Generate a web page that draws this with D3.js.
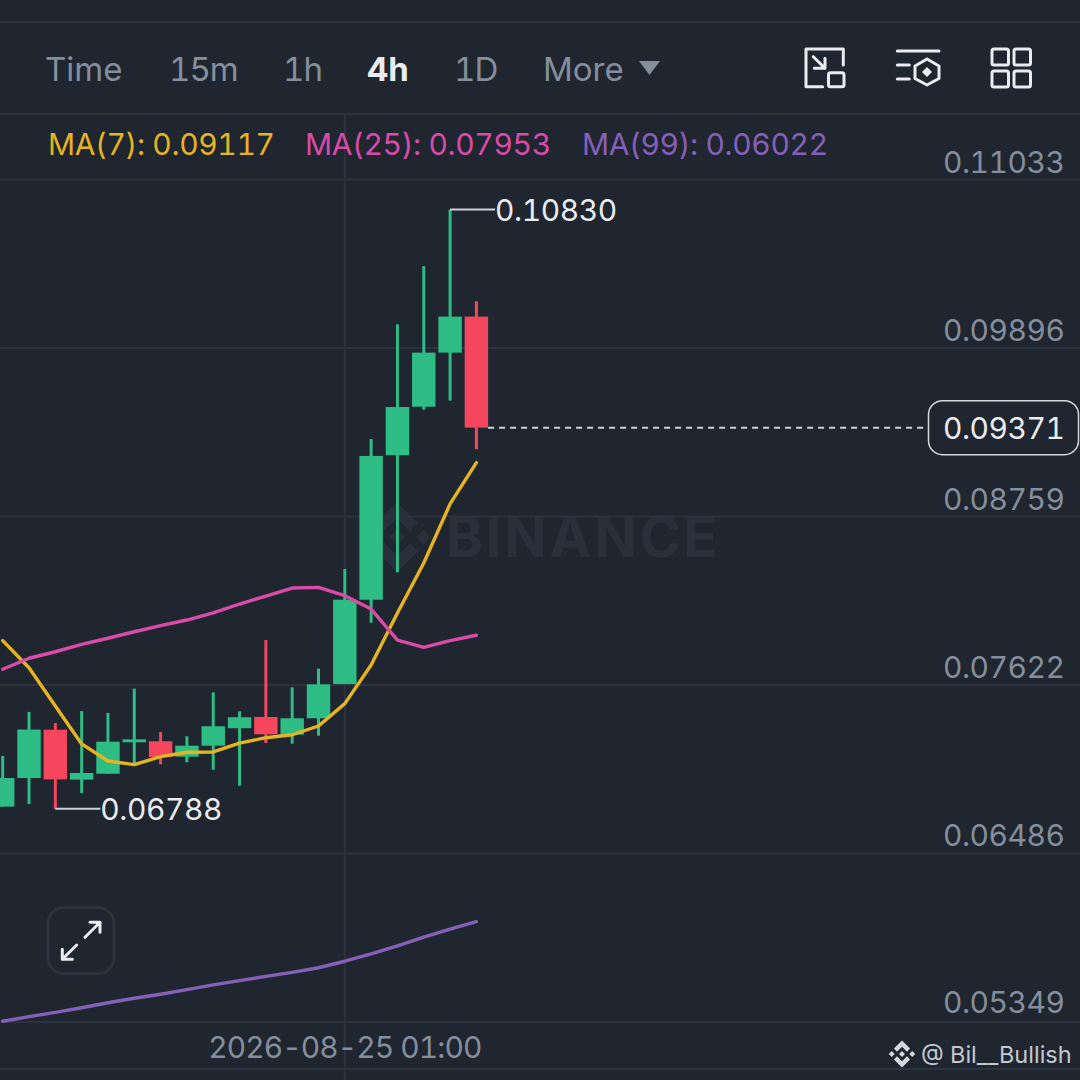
<!DOCTYPE html>
<html>
<head>
<meta charset="utf-8">
<script src="https://cdnjs.cloudflare.com/ajax/libs/d3/7.8.5/d3.min.js"></script>
<style>
  html, body { margin: 0; padding: 0; background: #1f2630; }
  svg { display: block; }
  text { font-family: Inter, "Noto Sans", sans-serif; font-variant-numeric: tabular-nums; font-feature-settings: "tnum" 1; }
</style>
</head>
<body>
<div id="chart"></div>
<script>
// values
const opens  = [0.06802, 0.06995, 0.07321, 0.06984, 0.07024, 0.07236, 0.07243, 0.07139, 0.07213, 0.07331, 0.07407, 0.07287, 0.07398, 0.07629, 0.08198, 0.09173, 0.09500, 0.09865, 0.10108];
const highs  = [0.07144, 0.07441, 0.07366, 0.07447, 0.07434, 0.07598, 0.07306, 0.07277, 0.07573, 0.07445, 0.07926, 0.07607, 0.07733, 0.08405, 0.09282, 0.10056, 0.10448, 0.10830, 0.10212];
const lows   = [0.06802, 0.06820, 0.06788, 0.06894, 0.07024, 0.07090, 0.07088, 0.07101, 0.07051, 0.06943, 0.07231, 0.07227, 0.07281, 0.07629, 0.08043, 0.08383, 0.09480, 0.09541, 0.09213];
const closes = [0.06995, 0.07322, 0.06986, 0.07029, 0.07240, 0.07256, 0.07137, 0.07213, 0.07344, 0.07405, 0.07290, 0.07398, 0.07627, 0.08198, 0.09168, 0.09498, 0.09865, 0.10108, 0.09359];

const ma7  = [0.07922, 0.07739, 0.07481, 0.07225, 0.07110, 0.07085, 0.07139, 0.07169, 0.07171, 0.07231, 0.07267, 0.07287, 0.07346, 0.07497, 0.07758, 0.08109, 0.08446, 0.08844, 0.09123];
const ma25 = [0.07729, 0.07803, 0.07847, 0.07897, 0.07938, 0.07982, 0.08023, 0.08061, 0.08109, 0.08169, 0.08223, 0.08277, 0.08281, 0.08225, 0.08135, 0.07926, 0.07877, 0.07922, 0.07958];
const ma99 = [0.05354, 0.05385, 0.05414, 0.05445, 0.05479, 0.05509, 0.05536, 0.05567, 0.05599, 0.05628, 0.05657, 0.05684, 0.05715, 0.05759, 0.05808, 0.05862, 0.05922, 0.05976, 0.06026];

const priceTicks = [0.11033, 0.09896, 0.08759, 0.07622, 0.06486, 0.05349];
const timeTicks = [13];
const timeTickLabels = ["2026-08-25 01:00"];
const lastPriceLabel = "0.09371";

const intervals = ["Time", "15m", "1h", "4h", "1D", "More"];
const intervalX = [45, 169, 283, 367, 454, 543];
const maLabels = ["MA(7): 0.09117", "MA(25): 0.07953", "MA(99): 0.06022"];
const maLabelX = [48, 305, 582];

const bg = "#1f2630", gridColor = "#2d333e", gray = "#848e9c", white = "#eaecef";
const green = "#2ebd85", red = "#f6465d";
const maColors = ["#e6b422", "#d94ba6", "#8560b8"];

const svg = d3.select("#chart").append("svg")
  .attr("width", 1080)
  .attr("height", 1080)
  .style("background", bg);

const x = d3.scaleLinear().domain([0, 18]).range([2.7, 476.4]);
const y = d3.scaleLinear().domain([0.05349, 0.11033]).range([1022, 179.5]);

// binance logo, drawn around a centre
const logoPaths = [
  "M0,-1L.6,-.4L.37,-.17L0,-.54L-.37,-.17L-.6,-.4Z",
  "M0,1L.6,.4L.37,.17L0,.54L-.37,.17L-.6,.4Z",
  "M0,-.22L.22,0L0,.22L-.22,0Z",
  "M-.76,-.22L-.54,0L-.76,.22L-.98,0Z",
  "M.76,-.22L.98,0L.76,.22L.54,0Z"
];
function drawLogo(cx, cy, r, color) {
  svg.append("g")
    .attr("transform", `translate(${cx},${cy}) scale(${r})`)
    .selectAll("path").data(logoPaths).enter().append("path")
    .attr("d", d => d)
    .attr("fill", color);
}

// watermark goes under the grid
drawLogo(397, 537, 35, "#2a303b");
svg.append("text")
  .attr("x", 446).attr("y", 557)
  .attr("font-size", 56).attr("font-weight", 700)
  .attr("letter-spacing", 2.7)
  .attr("fill", "#2a303b")
  .text("BINANCE");

// frame lines
svg.selectAll(".frame")
  .data([22, 114, 1069])
  .enter().append("line")
  .attr("x1", 0).attr("x2", 1080)
  .attr("y1", d => d).attr("y2", d => d)
  .attr("stroke", gridColor).attr("stroke-width", 2);

// price grid + labels
const yAxis = svg.append("g")
  .call(d3.axisRight(y).offset(0).tickValues(priceTicks).tickSize(1080).tickFormat(d3.format(".5f")));
yAxis.select(".domain").remove();
yAxis.selectAll("line").attr("stroke", gridColor).attr("stroke-width", 2);
yAxis.selectAll("text")
  .attr("x", 943).attr("y", d => d === 0.05349 ? -9 : -7).attr("dy", 0)
  .attr("font-size", 30).attr("font-family", "Inter")
  .attr("letter-spacing", -0.45)
  .attr("fill", gray).attr("text-anchor", "start");

// time axis
svg.selectAll(".time-grid")
  .data(timeTicks)
  .enter().append("line")
  .attr("x1", d => x(d)).attr("x2", d => x(d))
  .attr("y1", 115).attr("y2", 1080)
  .attr("stroke", gridColor).attr("stroke-width", 2);
const xAxis = svg.append("g")
  .attr("transform", "translate(0,1022)")
  .call(d3.axisBottom(x).offset(0).tickValues(timeTicks).tickSize(0).tickFormat((d, i) => timeTickLabels[i]));
xAxis.select(".domain").remove();
xAxis.selectAll("text")
  .attr("y", 36).attr("dy", 0)
  .attr("font-size", 30).attr("font-family", "Inter")
  .attr("letter-spacing", -0.95)
  .attr("fill", gray);

// candles
const bodyW = (x(1) - x(0)) * 0.89;
const candles = svg.selectAll(".candle")
  .data(opens.map((o, i) => ({ i, o, h: highs[i], l: lows[i], c: closes[i] })))
  .enter().append("g")
  .attr("class", "candle")
  .attr("fill", d => d.c >= d.o ? green : red)
  .attr("stroke", d => d.c >= d.o ? green : red);
candles.append("line")
  .attr("x1", d => x(d.i)).attr("x2", d => x(d.i))
  .attr("y1", d => y(d.h)).attr("y2", d => y(d.l))
  .attr("stroke-width", 3);
candles.append("rect")
  .attr("x", d => x(d.i) - bodyW / 2)
  .attr("width", bodyW)
  .attr("y", d => y(Math.max(d.o, d.c)))
  .attr("height", d => Math.abs(y(d.o) - y(d.c)))
  .attr("stroke", "none");

// moving averages
const line = d3.line().x((d, i) => x(i)).y(d => y(d));
[ma7, ma25, ma99].forEach((values, k) => {
  svg.append("path")
    .attr("d", line(values))
    .attr("fill", "none")
    .attr("stroke", maColors[k])
    .attr("stroke-width", 3.4)
    .attr("stroke-linejoin", "round")
    .attr("stroke-linecap", "round");
});

// high / low callouts
const hiIdx = d3.maxIndex(highs), loIdx = d3.minIndex(lows);
[[hiIdx, highs[hiIdx]], [loIdx, lows[loIdx]]].forEach(([i, v]) => {
  svg.append("line")
    .attr("x1", x(i)).attr("x2", x(i) + 45)
    .attr("y1", y(v)).attr("y2", y(v))
    .attr("stroke", "#cfd2d7").attr("stroke-width", 2);
  svg.append("text")
    .attr("x", x(i) + 45).attr("y", y(v) + 11)
    .attr("font-size", 30).attr("fill", white)
    .attr("letter-spacing", -0.45)
    .text(v.toFixed(5));
});

// last price
const lastY = y(closes[18]);
svg.append("line")
  .attr("x1", x(18) + bodyW / 2).attr("x2", 928)
  .attr("y1", lastY).attr("y2", lastY)
  .attr("stroke", "#cfd2d7").attr("stroke-width", 2)
  .attr("stroke-dasharray", "6 5");
svg.append("rect")
  .attr("x", 928.5).attr("y", lastY - 27)
  .attr("width", 150).attr("height", 54).attr("rx", 14)
  .attr("fill", bg).attr("stroke", "#d5d8dc").attr("stroke-width", 1.5);
svg.append("text")
  .attr("x", 943).attr("y", lastY + 11)
  .attr("font-size", 30).attr("fill", white)
  .attr("letter-spacing", -0.45)
  .text(lastPriceLabel);

// header
svg.selectAll(".interval")
  .data(intervals)
  .enter().append("text")
  .attr("x", (d, i) => intervalX[i]).attr("y", 81)
  .attr("font-size", 33)
  .attr("font-weight", d => d === "4h" ? 700 : 400)
  .attr("letter-spacing", d => /^1/.test(d) ? -1 : 0)
  .attr("fill", d => d === "4h" ? white : gray)
  .text(d => d);
svg.append("path").attr("d", "M639,61H660L649.5,75Z").attr("fill", gray);

svg.selectAll(".ma-label")
  .data(maLabels)
  .enter().append("text")
  .attr("x", (d, i) => maLabelX[i]).attr("y", 155)
  .attr("font-size", 30)
  .attr("letter-spacing", -0.35)
  .attr("fill", (d, i) => maColors[i])
  .text(d => d);

// toolbar icons
const iconPaths = [
  "M822.7,86.7H806V49H843.3V65",
  "M813.3,56.7L825,68.3M825,58.3V68.3H814.3",
  "M897.3,51H939M897.3,65H909.3M897.3,79H909.3",
  "M927,59L939,66V78.5L927,85L915,78.5V66Z",
  "M85,937.3L100,922.3M90,922.3H100V932.3",
  "M76.7,945L62.3,959.3M62.3,949.3V959.3H72.3"
];
svg.selectAll(".icon")
  .data(iconPaths)
  .enter().append("path")
  .attr("d", d => d)
  .attr("fill", "none")
  .attr("stroke", white)
  .attr("stroke-width", 3)
  .attr("stroke-linecap", "round")
  .attr("stroke-linejoin", "round");
svg.append("path").attr("d", "M927,67L932,72L927,77L922,72Z").attr("fill", white);
svg.selectAll(".icon-box")
  .data([[828.5, 72.7, 15.5, 14], [992, 49, 16.5, 16], [1014, 49, 16.5, 16], [992, 71, 16.5, 16], [1014, 71, 16.5, 16]])
  .enter().append("rect")
  .attr("x", d => d[0]).attr("y", d => d[1])
  .attr("width", d => d[2]).attr("height", d => d[3])
  .attr("rx", 2)
  .attr("fill", "none").attr("stroke", white).attr("stroke-width", 3);

// expand button
svg.append("rect")
  .attr("x", 48).attr("y", 907.5)
  .attr("width", 66).attr("height", 66).attr("rx", 16)
  .attr("fill", "none").attr("stroke", gridColor).attr("stroke-width", 3);

// author tag
drawLogo(902, 1054, 13.5, "#d5d8dc");
svg.append("text")
  .attr("x", 921).attr("y", 1063)
  .attr("font-family", "DejaVu Sans")
  .attr("font-size", 23.5)
  .attr("fill", "#c3c8d0")
  .text("@ Bil__Bullish");
</script>
</body>
</html>
